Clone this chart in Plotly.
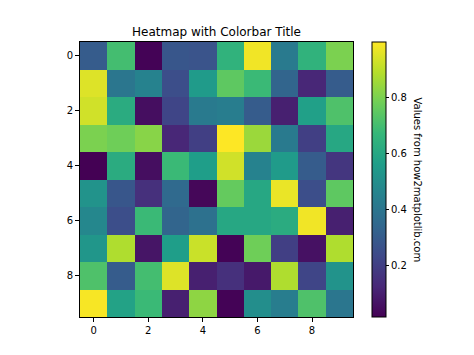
import plotly.graph_objects as go

x_ticks = [0, 2, 4, 6, 8]
cb_ticks = [0.2, 0.4, 0.6, 0.8]
title_text = "Heatmap with Colorbar Title"
cb_title = "Values from how2matplotlib.com"

row0 = [0.30, 0.70, 0.02, 0.28, 0.27, 0.65, 0.98, 0.42, 0.65, 0.80]
row1 = [0.95, 0.40, 0.45, 0.25, 0.55, 0.75, 0.68, 0.33, 0.12, 0.30]
row2 = [0.93, 0.62, 0.05, 0.22, 0.42, 0.43, 0.30, 0.10, 0.57, 0.72]
row3 = [0.80, 0.78, 0.82, 0.12, 0.20, 0.999, 0.85, 0.42, 0.20, 0.60]
row4 = [0.014, 0.62, 0.05, 0.68, 0.56, 0.93, 0.45, 0.55, 0.30, 0.17]
row5 = [0.52, 0.28, 0.15, 0.35, 0.03, 0.76, 0.60, 0.97, 0.25, 0.75]
row6 = [0.47, 0.25, 0.68, 0.33, 0.38, 0.60, 0.60, 0.62, 0.98, 0.10]
row7 = [0.53, 0.88, 0.07, 0.56, 0.92, 0.02, 0.78, 0.20, 0.06, 0.88]
row8 = [0.72, 0.30, 0.70, 0.95, 0.10, 0.15, 0.08, 0.88, 0.22, 0.52]
row9 = [0.99, 0.58, 0.68, 0.10, 0.83, 0.02, 0.50, 0.43, 0.72, 0.40]
z = [row0, row1, row2, row3, row4, row5, row6, row7, row8, row9]

W, H = 474, 355
L, R, T, B = 80, 121, 42, 38
pw = W - L - R

fig = go.Figure(go.Heatmap(
    z=z, x=list(range(10)), y=list(range(10)),
    colorscale="Viridis",
    colorbar=dict(
        x=(372 - L) / pw, xanchor="left", xpad=0, ypad=0,
        thickness=14, len=1, lenmode="fraction", y=0.5, yanchor="middle",
        outlinecolor="black", outlinewidth=1,
        tickvals=cb_ticks, ticktext=[str(v) for v in cb_ticks],
        ticks="outside", ticklen=3, tickcolor="black",
        tickfont=dict(family="DejaVu Sans", size=10, color="black"),
    ),
))

fig.update_layout(
    width=W, height=H,
    margin=dict(l=L, r=R, t=T, b=B),
    paper_bgcolor="white", plot_bgcolor="white",
    font=dict(family="DejaVu Sans", color="black"),
    title=dict(text=title_text, x=(L + pw / 2) / W, xanchor="center",
               yref="paper", y=1, yanchor="bottom", pad=dict(b=6),
               font=dict(size=12, color="black")),
    annotations=[dict(text=cb_title, textangle=90, xref="paper", yref="paper",
                      x=(417 - L) / pw, y=0.5, xanchor="center", yanchor="middle",
                      showarrow=False, font=dict(size=10, color="black"))],
)
fig.update_xaxes(range=[-0.5, 9.5], tickvals=x_ticks, ticks="outside", ticklen=4,
                 tickcolor="black", showline=True, linecolor="black", linewidth=1,
                 mirror=True, showgrid=False, zeroline=False,
                 tickfont=dict(size=10, color="black"))
fig.update_yaxes(range=[9.5, -0.5], tickvals=x_ticks, ticks="outside", ticklen=4,
                 tickcolor="black", showline=True, linecolor="black", linewidth=1,
                 mirror=True, showgrid=False, zeroline=False,
                 tickfont=dict(size=10, color="black"))

fig.write_html("out.html")
